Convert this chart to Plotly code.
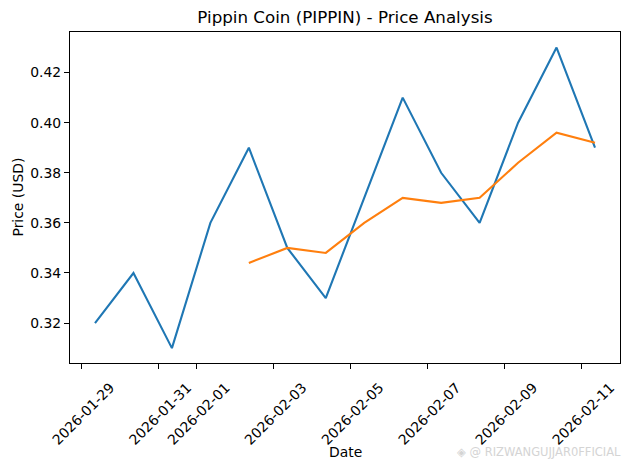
import pandas as pd
import plotly.graph_objects as go

# daily closes
dates = pd.date_range("2026-01-29 08:30", periods=14, freq="D")
price = [0.32, 0.34, 0.31, 0.36, 0.39, 0.35, 0.33, 0.37, 0.41, 0.38, 0.36, 0.40, 0.43, 0.39]
# moving average line, starts on the 5th day
ma_dates = dates[4:]
ma_price = [0.344, 0.350, 0.348, 0.360, 0.370, 0.368, 0.370, 0.384, 0.396, 0.392]

xticks = ["2026-01-29", "2026-01-31", "2026-02-01", "2026-02-03", "2026-02-05",
          "2026-02-07", "2026-02-09", "2026-02-11"]
yticks = [0.32, 0.34, 0.36, 0.38, 0.40, 0.42]

font = "DejaVu Sans"
pad = (dates[-1] - dates[0]) * 0.05

fig = go.Figure()
fig.add_trace(go.Scatter(x=dates, y=price, mode="lines",
                         line=dict(color="#1f77b4", width=2.1), name="Price"))
fig.add_trace(go.Scatter(x=ma_dates, y=ma_price, mode="lines",
                         line=dict(color="#ff7f0e", width=2.1), name="MA"))

axis = dict(showline=True, mirror=True, linecolor="black", linewidth=1.1,
            ticks="outside", ticklen=5, tickwidth=1.1, tickcolor="black",
            showgrid=False, zeroline=False, automargin=False,
            tickfont=dict(family=font, size=13.9, color="black"))

fig.update_layout(
    width=630, height=469,
    margin=dict(l=70, r=10, t=32, b=106),
    plot_bgcolor="white", paper_bgcolor="white",
    showlegend=False,
    font=dict(family=font, color="black"),
    title=dict(text="Pippin Coin (PIPPIN) - Price Analysis",
               font=dict(family=font, size=16.7, color="black"),
               x=0.5, xref="paper", xanchor="center",
               y=1 - 17 / 469, yref="container", yanchor="middle"),
    xaxis=dict(axis, range=[dates[0] - pad, dates[-1] + pad],
               tickvals=xticks, ticktext=xticks, tickangle=-45,
               ticklabelshift=29, ticklabelstandoff=5),
    yaxis=dict(axis, range=[0.30407, 0.4362], tickvals=yticks, tickformat=".2f"),
    annotations=[
        dict(text="Date", xref="paper", yref="paper", x=0.5, y=0,
             xanchor="center", yanchor="middle", yshift=-89, showarrow=False,
             font=dict(family=font, size=13.9, color="black")),
        dict(text="Price (USD)", xref="paper", yref="paper", x=0, y=0.5,
             xanchor="center", yanchor="middle", xshift=-53, textangle=-90,
             showarrow=False, font=dict(family=font, size=13.9, color="black")),
        dict(text="◈ @ RIZWANGUJJAR0FFICIAL", xref="paper", yref="paper",
             x=1, y=0, xanchor="right", yanchor="middle", xshift=3, yshift=-89,
             showarrow=False, font=dict(family=font, size=11.5, color="#d4d4d4")),
    ],
)

# the browser's default body margin would push the figure 8px off
fig.write_html("out.html", config={"displayModeBar": False},
               post_script="document.body.style.margin='0';")
